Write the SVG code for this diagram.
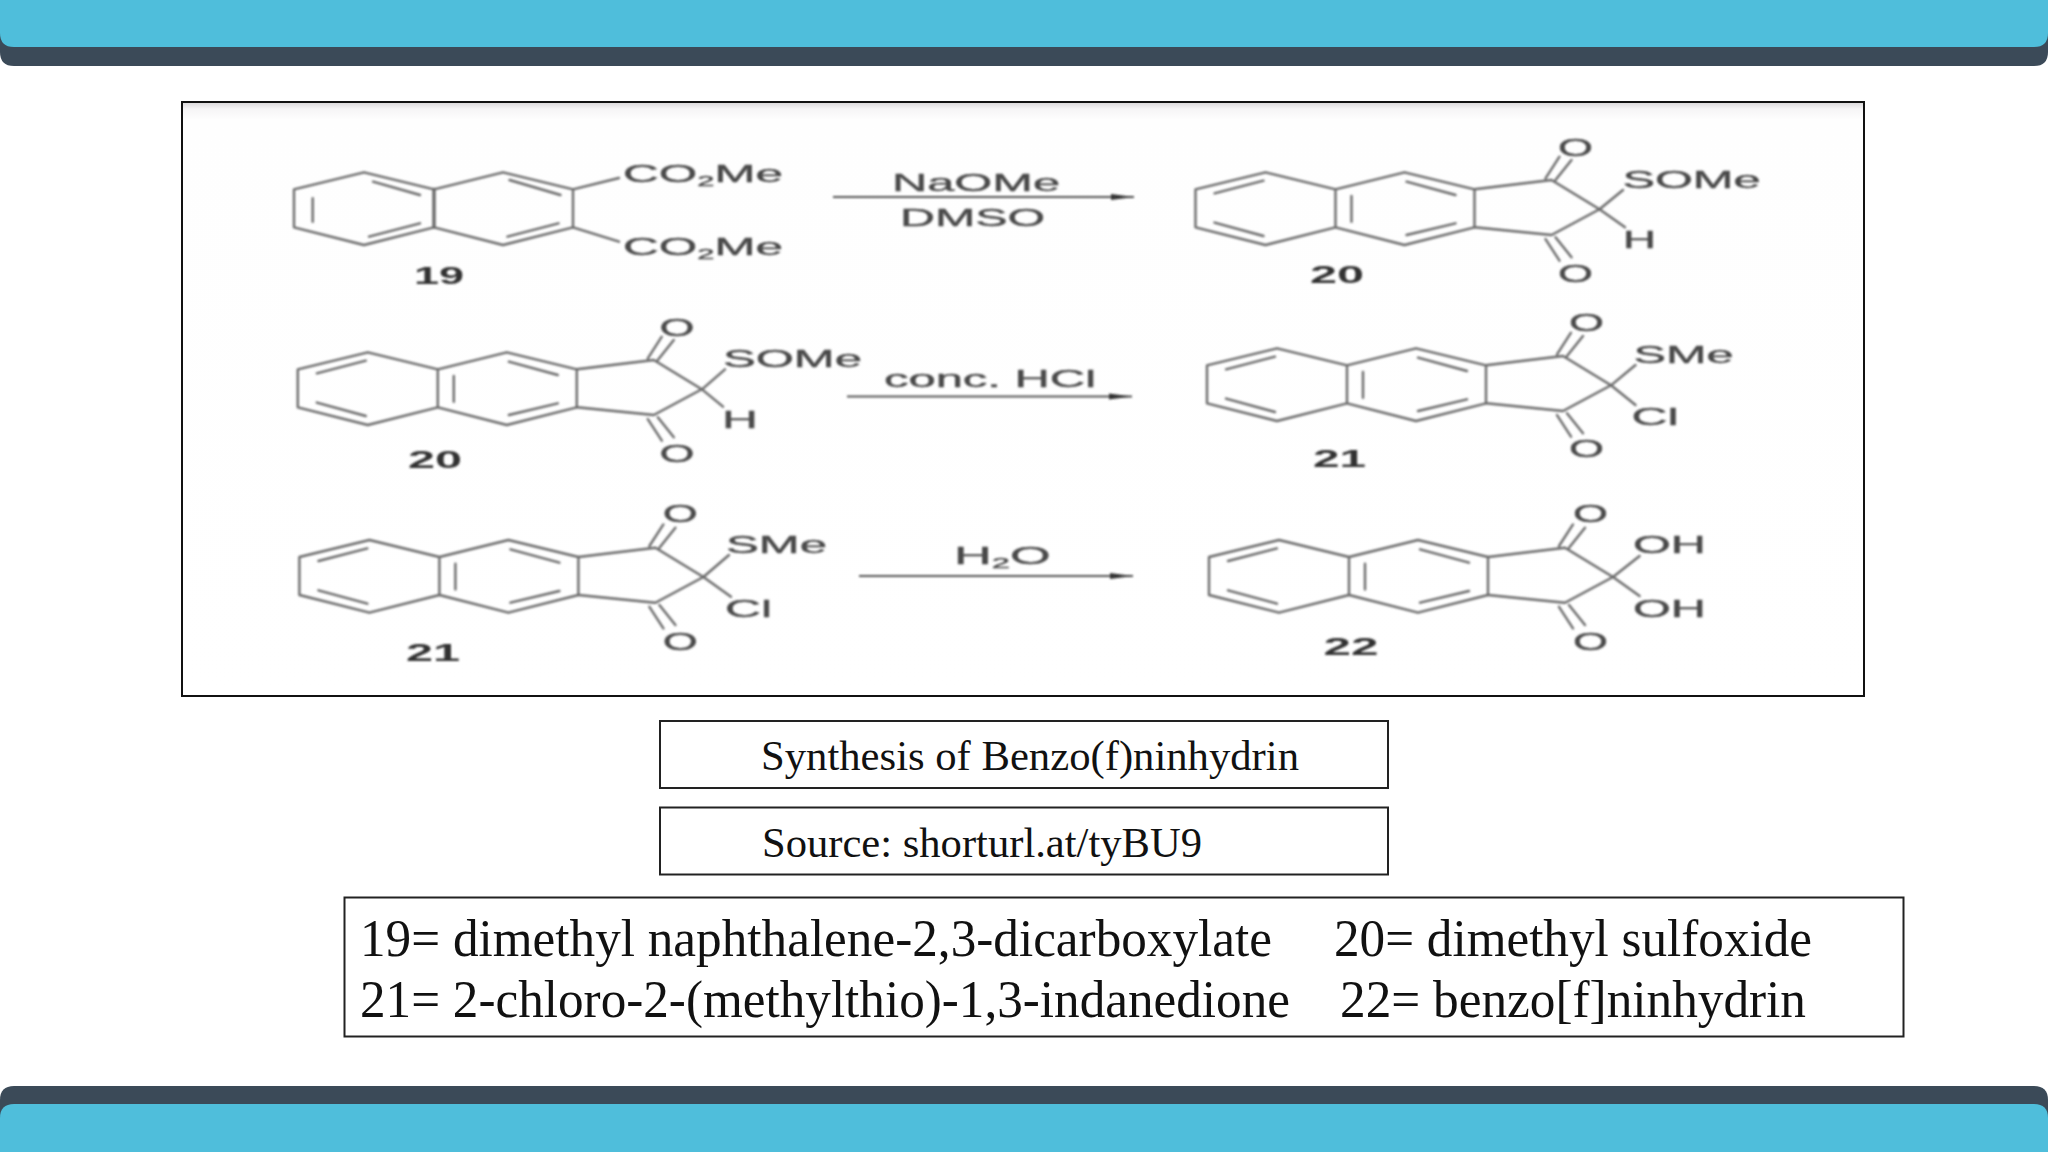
<svg xmlns="http://www.w3.org/2000/svg" xmlns:xlink="http://www.w3.org/1999/xlink" width="2048" height="1152" viewBox="0 0 2048 1152">
<style>
.bond{fill:none;stroke:#6a6a6a;stroke-width:2.4;stroke-linejoin:round;stroke-linecap:round}
.arrow{fill:none;stroke:#555;stroke-width:2.2}
.chem{font-family:"Liberation Sans",Arial,sans-serif;font-size:24px;fill:#484848;stroke:#484848;stroke-width:0.4}
.num{font-family:"Liberation Sans",Arial,sans-serif;font-size:24px;font-weight:bold;fill:#333}
.chem:not([transform]),.num,.c2{transform:translateY(1px)}
.cap{font-family:"Liberation Serif","Times New Roman",serif;fill:#111}
.c1{font-size:43px}
.c2{font-size:52px}
.box{fill:#fff;stroke:#222;stroke-width:2}
</style>
<defs>
<linearGradient id="panelShade" x1="0" y1="0" x2="0" y2="1">
<stop offset="0" stop-color="#d8d6d8"/><stop offset="0.012" stop-color="#f6f5f6"/><stop offset="0.03" stop-color="#fefefe"/><stop offset="1" stop-color="#ffffff"/>
</linearGradient>
<filter id="soft" x="-5%" y="-5%" width="110%" height="110%"><feGaussianBlur stdDeviation="0.8"/></filter>
<marker id="head" markerUnits="userSpaceOnUse" markerWidth="24" markerHeight="8" refX="23" refY="4" orient="auto">
<path d="M0 1L23 4L0 7Z" fill="#333"/>
</marker>
<g id="skeleton">
<path class="bond" d="M0 17L70 0L140 17L209 0L279 17V55L209 72.7L140 55L70 72.7L0 55ZM140 17V55"/>
</g>
<g id="core">
<use href="#skeleton"/>
<path class="bond" d="M19 21L68 8.4M19 50.3L68 63.7M156 23.7V49.4M211 9.4L260 22.7M211 62.7L260 51"/>
<path class="bond" d="M279 17L356 7.7L404 37L356 62.7L279 55M350 6L364 -15.6M360 7.7L376 -12.3M350 66.8L364 88.4M360 65L376 85"/>
</g>
</defs>
<g id="top-bar">
<path d="M0 0H2048V52Q2048 66 2034 66H14Q0 66 0 52Z" fill="#3b4a58"/>
<path d="M0 0H2048V33Q2048 47 2034 47H14Q0 47 0 33Z" fill="#4fbedb"/>
</g>
<g id="bottom-bar">
<path d="M0 1152H2048V1100Q2048 1086 2034 1086H14Q0 1086 0 1100Z" fill="#3b4a58"/>
<path d="M0 1152H2048V1118Q2048 1104 2034 1104H14Q0 1104 0 1118Z" fill="#4fbedb"/>
</g>
<rect id="panel" x="182" y="102" width="1682" height="594" fill="url(#panelShade)" stroke="#111" stroke-width="2"/>
<g filter="url(#soft)">
<g id="connectors">
<line class="arrow" x1="833" y1="197" x2="1134" y2="197" marker-end="url(#head)"/>
<line class="arrow" x1="847" y1="396.5" x2="1132" y2="396.5" marker-end="url(#head)"/>
<line class="arrow" x1="859" y1="576" x2="1133" y2="576" marker-end="url(#head)"/>
</g>
<g id="reagents">
<text class="chem" x="892" y="190" textLength="168" lengthAdjust="spacingAndGlyphs">NaOMe</text>
<text class="chem" x="900" y="225" textLength="145" lengthAdjust="spacingAndGlyphs">DMSO</text>
<text class="chem" x="884" y="386" textLength="212" lengthAdjust="spacingAndGlyphs">conc. HCl</text>
<text class="chem" transform="translate(954 564) scale(2.18 1)">H<tspan font-size="15" dy="4">2</tspan><tspan dy="-4">O</tspan></text>
</g>
<g id="mol-19-left">
<use href="#skeleton" x="294" y="172.3"/>
<path class="bond" transform="translate(294 172.3)" d="M79 9.4L126 22.7M75 64.3L126 51M18.7 26V49.4M215.5 7.7L266.5 22.7M213.4 64.3L264.5 51"/>
<path class="bond" d="M434 189.3V227.3" style="stroke-width:3.4"/>
<path class="bond" d="M573 189.3L619 178M573 227.3L619 241.7"/>
<text class="chem" transform="translate(623 182) scale(2.06 1)">CO<tspan font-size="15" dy="4">2</tspan><tspan dy="-4">Me</tspan></text>
<text class="chem" transform="translate(623 254.5) scale(2.06 1)">CO<tspan font-size="15" dy="4">2</tspan><tspan dy="-4">Me</tspan></text>
<text class="num" x="414" y="283" textLength="50" lengthAdjust="spacingAndGlyphs">19</text>
</g>
<g id="mol-20-right">
<use href="#core" x="1195.5" y="172.3"/>
<path class="bond" d="M1599.5 209.3L1623 190M1599.5 209.3L1625 227.3"/>
<text class="chem" x="1558" y="154.7" textLength="35" lengthAdjust="spacingAndGlyphs">O</text>
<text class="chem" x="1558" y="281.3" textLength="35" lengthAdjust="spacingAndGlyphs">O</text>
<text class="chem" x="1622.5" y="186.5" textLength="138" lengthAdjust="spacingAndGlyphs">SOMe</text>
<text class="chem" x="1623" y="247" textLength="33" lengthAdjust="spacingAndGlyphs">H</text>
<text class="num" x="1310" y="282" textLength="54" lengthAdjust="spacingAndGlyphs">20</text>
</g>
<g id="mol-20-left">
<use href="#core" x="297.8" y="352.3"/>
<path class="bond" d="M702 389.3L725 369.3M702 389.3L723 406.7"/>
<text class="chem" x="659.5" y="334.7" textLength="35" lengthAdjust="spacingAndGlyphs">O</text>
<text class="chem" x="659.5" y="461.3" textLength="35" lengthAdjust="spacingAndGlyphs">O</text>
<text class="chem" x="723" y="366" textLength="139" lengthAdjust="spacingAndGlyphs">SOMe</text>
<text class="chem" x="722" y="427" textLength="36" lengthAdjust="spacingAndGlyphs">H</text>
<text class="num" x="408" y="467" textLength="54" lengthAdjust="spacingAndGlyphs">20</text>
</g>
<g id="mol-21-right">
<use href="#core" x="1207" y="348.3"/>
<path class="bond" d="M1611 385.3L1635.5 365M1611 385.3L1635.5 405"/>
<text class="chem" x="1569" y="329.7" textLength="35" lengthAdjust="spacingAndGlyphs">O</text>
<text class="chem" x="1569" y="456.3" textLength="35" lengthAdjust="spacingAndGlyphs">O</text>
<text class="chem" x="1633.5" y="362" textLength="100" lengthAdjust="spacingAndGlyphs">SMe</text>
<text class="chem" x="1631.5" y="423.5" textLength="47" lengthAdjust="spacingAndGlyphs">Cl</text>
<text class="num" x="1313" y="465.5" textLength="53" lengthAdjust="spacingAndGlyphs">21</text>
</g>
<g id="mol-21-left">
<use href="#core" x="299.4" y="540"/>
<path class="bond" d="M703.4 577L729 555M703.4 577L731 596.7"/>
<text class="chem" x="662.7" y="521" textLength="35" lengthAdjust="spacingAndGlyphs">O</text>
<text class="chem" x="662.7" y="648.7" textLength="35" lengthAdjust="spacingAndGlyphs">O</text>
<text class="chem" x="726" y="552" textLength="101" lengthAdjust="spacingAndGlyphs">SMe</text>
<text class="chem" x="725" y="616" textLength="47" lengthAdjust="spacingAndGlyphs">Cl</text>
<text class="num" x="406" y="659.5" textLength="54" lengthAdjust="spacingAndGlyphs">21</text>
</g>
<g id="mol-22">
<use href="#core" x="1209" y="540"/>
<path class="bond" d="M1613 577L1639.6 556M1613 577L1639.6 596"/>
<text class="chem" x="1573" y="521" textLength="35" lengthAdjust="spacingAndGlyphs">O</text>
<text class="chem" x="1573" y="648.7" textLength="35" lengthAdjust="spacingAndGlyphs">O</text>
<text class="chem" x="1633" y="552" textLength="73" lengthAdjust="spacingAndGlyphs">OH</text>
<text class="chem" x="1633" y="616" textLength="73" lengthAdjust="spacingAndGlyphs">OH</text>
<text class="num" x="1323.5" y="654" textLength="55" lengthAdjust="spacingAndGlyphs">22</text>
</g>
</g>
<g id="caption-title">
<rect class="box" x="660" y="721" width="728" height="67"/>
<text class="cap c1" x="761" y="770" textLength="538" lengthAdjust="spacingAndGlyphs">Synthesis of Benzo(f)ninhydrin</text>
</g>
<g id="caption-source">
<rect class="box" x="660" y="807.5" width="728" height="67"/>
<text class="cap c1" x="762" y="856.5" textLength="440" lengthAdjust="spacingAndGlyphs">Source: shorturl.at/tyBU9</text>
</g>
<g id="legend">
<rect class="box" x="344.5" y="897.5" width="1559" height="139"/>
<text class="cap c2" x="360" y="955" textLength="912" lengthAdjust="spacingAndGlyphs">19= dimethyl naphthalene-2,3-dicarboxylate</text>
<text class="cap c2" x="1334" y="955" textLength="478" lengthAdjust="spacingAndGlyphs">20= dimethyl sulfoxide</text>
<text class="cap c2" x="360" y="1016" textLength="930" lengthAdjust="spacingAndGlyphs">21= 2-chloro-2-(methylthio)-1,3-indanedione</text>
<text class="cap c2" x="1340" y="1016" textLength="466" lengthAdjust="spacingAndGlyphs">22= benzo[f]ninhydrin</text>
</g>
</svg>
